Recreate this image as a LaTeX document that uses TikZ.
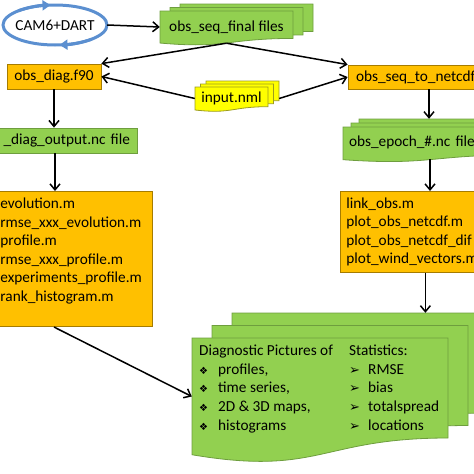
\documentclass[tikz,border=0pt]{standalone}
\usepackage{fontspec}
\setmainfont{Carlito}
\newfontfamily\symfont{DejaVu Sans}
\usetikzlibrary{positioning, arrows.meta}

\definecolor{scriptfill}{HTML}{FFC000}
\definecolor{scriptline}{HTML}{A67C00}
\definecolor{filefill}{HTML}{92D050}
\definecolor{fileline}{HTML}{6E9E3E}
\definecolor{nmlfill}{HTML}{FFFF00}
\definecolor{nmlline}{HTML}{9C9C1E}
\definecolor{loopblue}{HTML}{5B8FD0}

% one page of a document stack: style, left, top, width, height
\newcommand{\docpage}[5]{%
  \draw[#1] ({#2},{#3}) -- ({#2+#4},{#3}) -- ({#2+#4},{#3+0.8*#5})
    .. controls ({#2+0.5*#4},{#3+0.8*#5}) and ({#2+0.5*#4},{#3+1.107*#5}) .. ({#2},{#3+0.934*#5}) -- cycle;}
% three pages: style, left, top, width, height, dx, dy
\newcommand{\docstack}[7]{%
  \docpage{#1}{#2+2*(#6)}{#3+2*(#7)}{#4}{#5}
  \docpage{#1}{#2+#6}{#3+#7}{#4}{#5}
  \docpage{#1}{#2}{#3}{#4}{#5}}
\newcommand{\diambul}{\makebox[19pt][l]{\symfont\fontsize{10}{10}\selectfont ❖}}
\newcommand{\arrowbul}{\makebox[19pt][l]{\symfont\fontsize{13}{13}\selectfont ➢}}

\begin{document}
\begin{tikzpicture}[x=1pt, y=-1pt, >={Straight Barb[length=6pt,width=10pt]},
  font=\fontsize{15.3}{18.6}\selectfont,
  script/.style={draw=scriptline, fill=scriptfill, line width=0.8pt, inner ysep=0pt},
  datafile/.style={draw=fileline, fill=filefill, line width=0.8pt, inner ysep=0pt},
  filepage/.style={draw=fileline, fill=filefill, line width=0.8pt},
  nmlpage/.style={draw=nmlline, fill=nmlfill, line width=0.8pt},
  flow/.style={->, line width=1.5pt},
  camloop/.style={draw=loopblue, line width=3pt}]

\useasboundingbox (0,0) rectangle (474,474);
\clip (0,0) rectangle (474,474);

% model loop
\node[minimum width=104pt, minimum height=40pt, inner sep=0pt] (CamDart) at (55,25) {CAM6+DART};
\draw[camloop] (CamDart.center) ellipse [x radius=52, y radius=20];
\draw[camloop, -{Triangle[length=8pt,width=10pt]}] ([shift={(225:52 and 20)}]CamDart.center) arc[start angle=225, end angle=265, x radius=52, y radius=20];
\draw[camloop, -{Triangle[length=8pt,width=10pt]}] ([shift={(45:52 and 20)}]CamDart.center) arc[start angle=45, end angle=85, x radius=52, y radius=20];

% observation files and namelist
\docstack{filepage}{160}{11}{133}{34.3}{10}{-3.5}
\node[minimum width=133pt, minimum height=32pt, inner sep=0pt] (ObsSeqFinal) at (226.5,27) {obs\_seq\_final files};
\docstack{nmlpage}{195}{87}{73}{24.6}{5.5}{-3}
\node[minimum width=73pt, minimum height=23pt, inner sep=0pt] (InputNml) at (231.5,98.5) {input.nml};

% converters
\node[script, minimum width=94pt, minimum height=25pt, inner xsep=0pt] (ObsDiag) at (54,76.5) {obs\_diag.f90};
\node[script, text width=146pt, inner xsep=8pt, minimum height=24pt, align=left] (ObsSeqNetcdf) at (429,77) {obs\_seq\_to\_netcdf};

\draw[flow] (CamDart.east) -- (ObsSeqFinal.west);
\draw[flow] (ObsSeqFinal.south) -- (ObsDiag.north east);
\draw[flow] (ObsSeqFinal.south) -- (ObsSeqNetcdf.north west);
\draw[flow] (InputNml.west) -- (ObsDiag.east);
\draw[flow] ([xshift=11pt]InputNml.east) -- (ObsSeqNetcdf.west);

% left column
\node[datafile, text width=150pt, inner xsep=7pt, minimum height=25pt, align=right] (ObsDiagOutput) at (55,140.5) {\_diag\_output.nc file};
\node[script, anchor=north west, text width=148pt, inner xsep=4pt, inner ysep=6.5pt, align=left] (DiagScripts) at (-4,191)
  {evolution.m\\rmse\_xxx\_evolution.m\\profile.m\\rmse\_xxx\_profile.m\\experiments\_profile.m\\rank\_histogram.m\\\mbox{}};
\draw[flow] (ObsDiag.south) -- (ObsDiag.south |- ObsDiagOutput.north);
\draw[flow] (ObsDiagOutput.south) -- (ObsDiagOutput.south |- DiagScripts.north);

% right column
\docstack{filepage}{343}{127}{174}{35}{8}{-4}
\node[minimum height=33pt, text width=162pt, inner xsep=6pt, inner ysep=0pt, align=left] (ObsEpoch) at (430,142.5) {obs\_epoch\_\#.nc file};
\node[script, anchor=north west, text width=158pt, inner xsep=6pt, inner ysep=6pt, align=left] (ObsScripts) at (340,191)
  {link\_obs.m\\plot\_obs\_netcdf.m\\plot\_obs\_netcdf\_dif\\plot\_wind\_vectors.m};
\draw[flow] (ObsSeqNetcdf.south) -- ([yshift=7pt]ObsSeqNetcdf.south |- ObsEpoch.north);
\draw[flow] (ObsEpoch.south) -- (ObsEpoch.south |- ObsScripts.north);

% results
\docstack{filepage}{192}{338}{256}{125}{20}{-12.5}
\node[minimum width=256pt, minimum height=117pt, inner sep=0pt] (DiagPics) at (320,396.5) {};
\node[anchor=north west, align=left, inner sep=0pt] (PicsList) at (199,345)
  {Diagnostic Pictures of\\\diambul profiles,\\\diambul time series,\\\diambul 2D \& 3D maps,\\\diambul histograms};
\node[anchor=north west, align=left, inner sep=0pt] (StatsList) at (349,345)
  {Statistics:\\\arrowbul RMSE\\\arrowbul bias\\\arrowbul totalspread\\\arrowbul locations};
\draw[flow] (DiagScripts.south -| ObsDiag) -- (DiagPics.west);
\draw[flow] (ObsScripts.south) -- ([yshift=25pt]DiagPics.north -| ObsScripts.south);

\end{tikzpicture}
\end{document}
